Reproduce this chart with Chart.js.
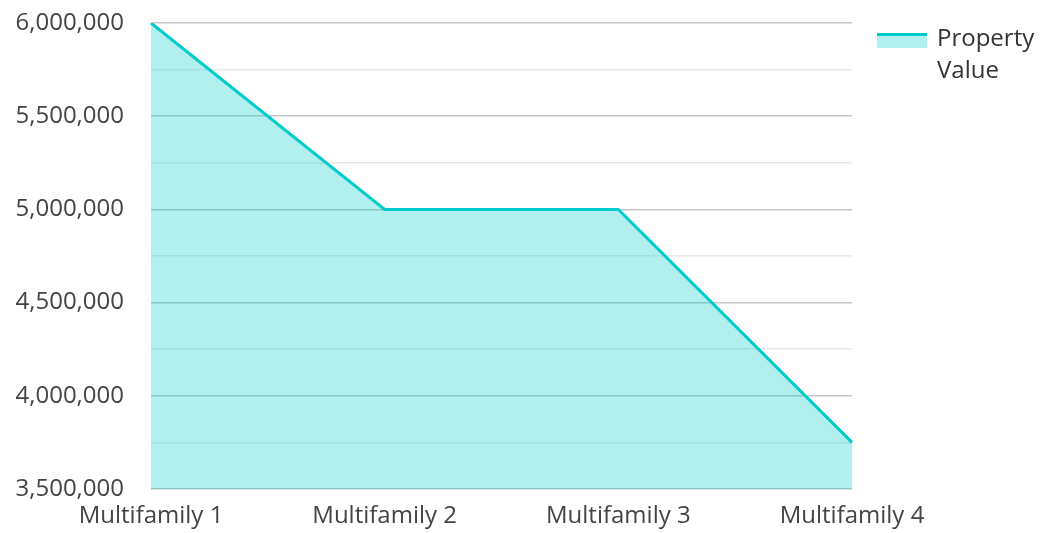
<!DOCTYPE html>
<html>
<head>
<meta charset="utf-8">
<script src="https://cdn.jsdelivr.net/npm/chart.js@4"></script>
<style>
  html, body { margin: 0; padding: 0; background: #fff; }
  #wrap { width: 1041px; height: 533px; position: relative; }
</style>
</head>
<body>
<div id="wrap"><canvas id="valueChart"></canvas></div>
<script>
// chart data
const categories = ['Multifamily 1', 'Multifamily 2', 'Multifamily 3', 'Multifamily 4'];
const propertyValues = [6000000, 5000000, 5000000, 3750000];
const seriesLabel = ['Property', 'Value'];
const yMin = 3500000;
const yMax = 6000000;

const lineColor = '#00cccc';
const fillColor = 'rgba(0, 204, 204, 0.3)';

// simple legend on the right: filled box with a thick top line, two-line text
const sideLegend = {
    id: 'sideLegend',
    afterDraw(chart) {
        const ctx = chart.ctx;
        const x = chart.chartArea.right + 25;
        const y = 33;
        ctx.save();
        ctx.fillStyle = fillColor;
        ctx.fillRect(x, y, 50, 15);
        ctx.fillStyle = lineColor;
        ctx.fillRect(x, y, 50, 3);
        ctx.fillStyle = '#333';
        ctx.font = '24px "Open Sans", sans-serif';
        ctx.textBaseline = 'middle';
        seriesLabel.forEach((t, i) => ctx.fillText(t, x + 60, y + 6 + i * 32));
        ctx.restore();
    }
};

Chart.defaults.font.family = '"Open Sans", sans-serif';
Chart.defaults.font.size = 24;
Chart.defaults.color = '#444';

const ctx = document.getElementById('valueChart').getContext('2d');
const valueChart = new Chart(ctx, {
    type: 'line',
    data: {
        labels: categories,
        datasets: [{
            label: seriesLabel.join(' '),
            data: propertyValues,
            borderColor: lineColor,
            backgroundColor: fillColor,
            borderWidth: 3,
            pointRadius: 0,
            tension: 0,
            fill: 'start'
        }]
    },
    options: {
        responsive: true,
        maintainAspectRatio: false,
        animation: false,
        layout: { padding: { top: 0, right: 189, left: 0, bottom: 0 } },
        plugins: {
            tooltip: { enabled: false },
            legend: { display: false }
        },
        scales: {
            x: {
                offset: false,
                grid: { display: false, drawTicks: false },
                border: { display: false },
                ticks: { padding: 13, maxRotation: 0, autoSkip: false },
                afterFit: s => { s.height = 44; }
            },
            y: {
                min: yMin,
                max: yMax,
                border: { display: false },
                grid: {
                    drawTicks: false,
                    color: c => (c.tick && c.tick.value % 500000 === 0) ? '#c6c6c6' : '#e8e8e8',
                    lineWidth: 1.5
                },
                ticks: {
                    stepSize: 250000,
                    autoSkip: false,
                    padding: 27,
                    callback: v => v % 500000 === 0 ? v.toLocaleString('en-US') : ''
                },
                afterFit: s => {
                    s.width = 151;
                    s.paddingTop = 23;
                    s.paddingBottom = 0;
                }
            }
        }
    },
    plugins: [sideLegend]
});
</script>
</body>
</html>
